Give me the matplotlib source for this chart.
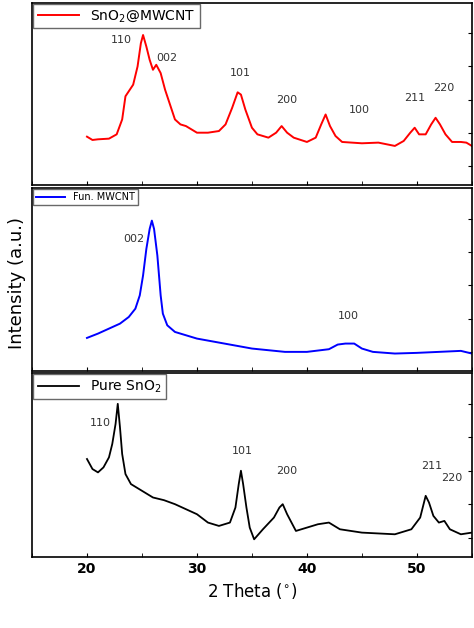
import matplotlib
matplotlib.use("Agg")
import matplotlib.pyplot as plt
from matplotlib.ticker import MultipleLocator

x_top = [20, 20.5, 21, 22, 22.7, 23.2, 23.5, 23.8, 24.2, 24.6, 24.9, 25.1, 25.4, 25.7, 26.0, 26.3, 26.7, 27.1, 27.5, 28, 28.5, 29, 30, 31, 32, 32.6, 33.2, 33.7, 34.0, 34.4, 35.0, 35.5, 36.5, 37.2, 37.7, 38.2, 38.8, 40, 40.8, 41.3, 41.7, 42.1, 42.6, 43.2, 45, 46.5, 48, 48.8, 49.4, 49.8, 50.2, 50.8, 51.3, 51.7, 52.1, 52.6, 53.2, 54, 54.5, 55]
y_top = [188, 178, 180, 182, 195, 240, 310, 325, 345, 400, 470, 495, 460, 420, 390, 405, 380, 330, 290, 240, 225, 220, 200, 200, 205, 225, 275, 322, 315, 270, 215, 195, 185, 200, 220, 200, 185, 172, 185, 225, 255, 220, 190, 172, 168, 170, 160, 175, 200, 215, 195, 195, 225, 245, 225, 195, 172, 172, 170, 160]
x_mid = [20, 21, 22, 23, 23.8, 24.4, 24.8, 25.1, 25.4, 25.7, 25.9, 26.1, 26.4, 26.7, 26.9, 27.3, 28, 29, 30, 32, 35, 38, 40, 42, 42.8, 43.5, 44.3, 45, 46, 48, 50, 52, 54, 55]
y_mid = [142, 155, 170, 185, 205, 230, 270, 330, 410, 470, 495, 470, 390, 270, 215, 180, 160, 150, 140, 128, 110, 100, 100, 108, 122, 125, 125, 110, 100, 95, 97, 100, 103, 95]
x_bot = [20, 20.5, 21, 21.5, 22, 22.3, 22.6, 22.8, 23.0, 23.2, 23.5, 24, 25, 26, 27, 28, 29, 30, 31, 32, 33, 33.5, 33.8, 34.0, 34.2, 34.5, 34.8, 35.2, 36, 37, 37.5, 37.8, 38.2, 39, 40, 41, 42, 43, 45, 48, 49.5, 50.3, 50.8, 51.1, 51.5, 52, 52.5, 53, 54, 55]
y_bot = [335, 305, 295, 310, 340, 380, 440, 500, 430, 350, 290, 260, 240, 220, 212, 200, 185, 170, 145, 135, 145, 190, 260, 300, 260, 190, 130, 95, 125, 160, 190, 200, 170, 120, 130, 140, 145, 125, 115, 110, 125, 160, 225, 205, 165, 145, 150, 125, 110, 115]

labels_top = [("110", 22.2, 470), ("002", 26.3, 415), ("101", 33.0, 370), ("200", 37.2, 290), ("100", 43.8, 260), ("211", 48.8, 295), ("220", 51.5, 325)]
labels_mid = [("002", 23.3, 430), ("100", 42.8, 200)]
labels_bot = [("110", 20.3, 435), ("101", 33.2, 350), ("200", 37.2, 290), ("211", 50.4, 305), ("220", 52.2, 270)]

fig = plt.figure(figsize=(4.74, 6.28), dpi=100)
rects = [(0.0675, 0.7054, 0.928, 0.290), (0.0675, 0.409, 0.928, 0.291), (0.0675, 0.113, 0.928, 0.293)]
series = [(x_top, y_top, "red", r"SnO$_2$@MWCNT", labels_top),
          (x_mid, y_mid, "blue", "Fun. MWCNT", labels_mid),
          (x_bot, y_bot, "black", r"Pure SnO$_2$", labels_bot)]
for i, (r, (xs, ys, c, lab, anns)) in enumerate(zip(rects, series)):
    ax = fig.add_axes(r)
    ax.plot(xs, ys, color=c, lw=1.4 if i != 2 else 1.3, label=lab)
    ax.set_xlim(15, 55)
    ax.set_ylim(42, 592)
    ax.xaxis.set_major_locator(MultipleLocator(10))
    ax.xaxis.set_minor_locator(MultipleLocator(5))
    ax.tick_params(axis="x", which="both", direction="in", length=3, top=False)
    ax.set_yticks([100, 200, 300, 400, 500])
    ax.tick_params(axis="y", direction="in", left=False, right=True, labelleft=False, length=3)
    for s in ax.spines.values():
        s.set_linewidth(1.2)
    if i < 2:
        ax.tick_params(axis="x", labelbottom=False)
    else:
        ax.tick_params(axis="x", labelsize=10)
        for t in ax.get_xticklabels():
            t.set_fontweight("bold")
        ax.set_xlabel(r"2 Theta ($^{\circ}$)", fontsize=12)
    for t, xx, yy in anns:
        ax.text(xx, yy, t, fontsize=8, color="#333333")
    leg = ax.legend(loc="upper left", fontsize=10 if i != 1 else 7, fancybox=False,
                    edgecolor="#444444", borderaxespad=0.1, handlelength=3,
                    borderpad=0.3)
    leg.get_frame().set_linewidth(1.0)
fig.text(0.035, 0.55, "Intensity (a.u.)", rotation=90, fontsize=13, va="center", ha="center")
fig.savefig("out.png", dpi=100)
